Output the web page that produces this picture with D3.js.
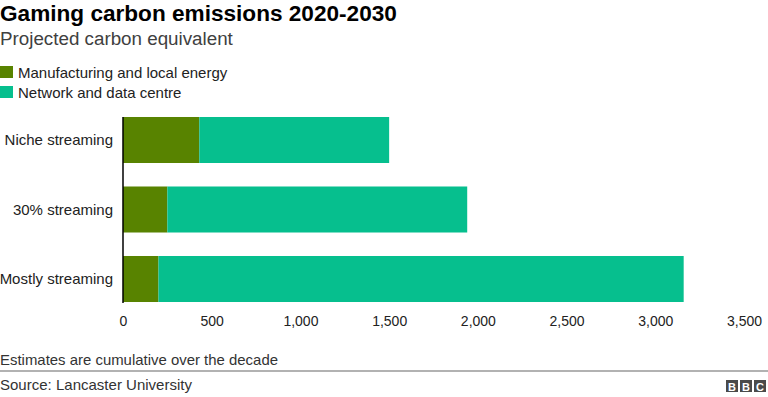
<!DOCTYPE html>
<html>
<head>
<meta charset="utf-8">
<script src="https://cdn.jsdelivr.net/npm/d3@7"></script>
<style>
  body { margin: 0; background: #fff; }
  svg { display: block; font-family: "Liberation Sans", Arial, Helvetica, sans-serif; }
</style>
</head>
<body>
<svg id="chart" width="768" height="397"></svg>
<script>
// Chart data
const aCategories = ['Niche streaming', '30% streaming', 'Mostly streaming'];
const aManufacturing = [430, 250, 200];
const aNetwork = [1070, 1690, 2960];
const aTicks = [0, 500, 1000, 1500, 2000, 2500, 3000, 3500];
const aSeries = [
  { sName: 'Manufacturing and local energy', sColour: '#588300', aValues: aManufacturing },
  { sName: 'Network and data centre', sColour: '#06bf8e', aValues: aNetwork }
];

const oSvg = d3.select('#chart');
const iWidth = 768;

// Title block
oSvg.append('text').attr('x', 0).attr('y', 21)
  .attr('font-size', 22.6).attr('font-weight', 'bold').attr('fill', '#000')
  .text('Gaming carbon emissions 2020-2030');
oSvg.append('text').attr('x', 0).attr('y', 45)
  .attr('font-size', 18.8).attr('fill', '#404040')
  .text('Projected carbon equivalent');

// Legend
const oLegend = oSvg.append('g').selectAll('g').data(aSeries).enter().append('g')
  .attr('transform', (d, i) => `translate(0, ${66 + i * 20})`);
oLegend.append('rect').attr('width', 13).attr('height', 12).attr('fill', d => d.sColour);
oLegend.append('text').attr('x', 18).attr('y', 12)
  .attr('font-size', 15).attr('fill', '#222').text(d => d.sName);

// Scales
const oScaleX = d3.scaleLinear().domain([0, 3500]).range([123, 744]);
const oScaleY = d3.scaleBand().domain(aCategories).range([105.25, 313.75])
  .paddingInner(0.338).paddingOuter(0.169);

// Stacked bars
const aStack = d3.stack().keys([0, 1]).value((d, k) => aSeries[k].aValues[d])(aCategories.map((c, i) => i));
oSvg.append('g').selectAll('g').data(aStack).enter().append('g')
  .attr('fill', (d, i) => aSeries[i].sColour)
  .selectAll('rect').data(d => d).enter().append('rect')
  .attr('x', d => oScaleX(d[0]))
  .attr('width', d => oScaleX(d[1]) - oScaleX(d[0]))
  .attr('y', d => oScaleY(aCategories[d.data]))
  .attr('height', oScaleY.bandwidth());

// Category labels
oSvg.append('g').selectAll('text').data(aCategories).enter().append('text')
  .attr('x', 113).attr('y', d => oScaleY(d) + oScaleY.bandwidth() / 2 + 5)
  .attr('text-anchor', 'end').attr('font-size', 15).attr('fill', '#222')
  .text(d => d);

// Vertical baseline
oSvg.append('line')
  .attr('x1', oScaleX(0)).attr('x2', oScaleX(0))
  .attr('y1', oScaleY(aCategories[0])).attr('y2', oScaleY(aCategories[2]) + oScaleY.bandwidth() + 1)
  .attr('stroke', '#000').attr('stroke-width', 1.5);

// X axis
const oAxis = oSvg.append('g').attr('transform', 'translate(0, 316)')
  .call(d3.axisBottom(oScaleX).tickValues(aTicks).tickSize(0).tickPadding(0).tickFormat(d3.format(',')));
oAxis.select('.domain').remove();
oAxis.selectAll('text').attr('font-size', 14).attr('fill', '#222')
  .attr('font-family', '"Liberation Sans", Arial, sans-serif');

// Footer
oSvg.append('text').attr('x', 0).attr('y', 365)
  .attr('font-size', 15).attr('fill', '#333').attr('textLength', 278).attr('lengthAdjust', 'spacingAndGlyphs')
  .text('Estimates are cumulative over the decade');
oSvg.append('line').attr('x1', 0).attr('x2', iWidth).attr('y1', 371).attr('y2', 371)
  .attr('stroke', '#999').attr('stroke-width', 1.5);
oSvg.append('text').attr('x', 0).attr('y', 390)
  .attr('font-size', 15).attr('fill', '#333').attr('textLength', 192).attr('lengthAdjust', 'spacingAndGlyphs')
  .text('Source: Lancaster University');

// BBC blocks
const oLogo = oSvg.append('g').attr('transform', 'translate(726, 380)')
  .selectAll('g').data(['B', 'B', 'C']).enter().append('g')
  .attr('transform', (d, i) => `translate(${i * 14}, 0)`);
oLogo.append('rect').attr('width', 12).attr('height', 12).attr('fill', '#4a4a4a');
oLogo.append('text').attr('x', 6).attr('y', 10.5).attr('text-anchor', 'middle')
  .attr('font-size', 11).attr('font-weight', 'bold').attr('fill', '#fff').text(d => d);
</script>
</body>
</html>
